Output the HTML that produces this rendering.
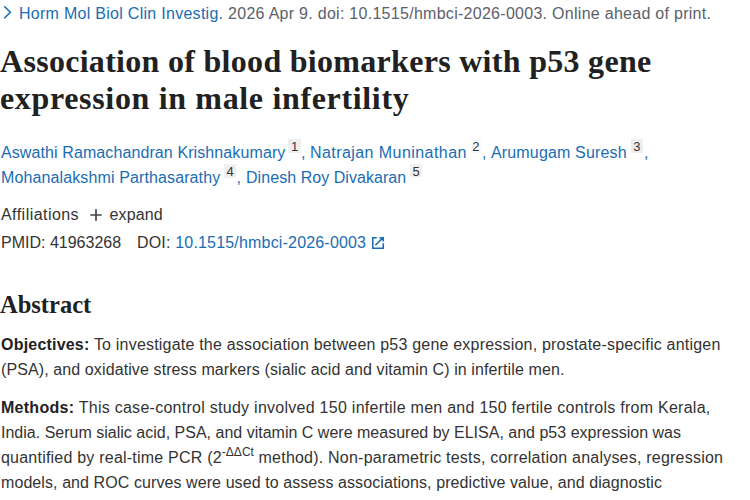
<!DOCTYPE html>
<html><head><meta charset="utf-8">
<style>
html,body{margin:0;padding:0;background:#fff;}
body{width:750px;height:500px;overflow:hidden;position:relative;font-family:"Liberation Sans",sans-serif;color:#212121;}
.l{position:absolute;left:1px;white-space:nowrap;line-height:20px;font-size:16px;}
a{color:#1a6db3;text-decoration:none;}
.cit{color:#5b616b;left:19px;}
.t{left:0;font-family:"Liberation Serif",serif;font-weight:bold;font-size:32px;line-height:36px;color:#212121;}
.au{color:#1a6db3;}
.sb{position:absolute;height:13.5px;font-size:13px;line-height:16.4px;text-align:center;color:#333;background:#efefef;}
.cm{color:#1a6db3;}
.au sup{display:inline-block;font-size:13px;line-height:14px;color:#212121;background:#f0f0f0;padding:0 2.6px;vertical-align:baseline;position:relative;top:-7.5px;letter-spacing:0}
.ab{left:0;font-family:"Liberation Serif",serif;font-weight:bold;font-size:24px;line-height:28px;}
.p{color:#333;}
b{color:#222;}
.p sup{font-size:12px;line-height:0;vertical-align:baseline;position:relative;top:-7px;letter-spacing:0}
svg{position:absolute;overflow:visible}
</style></head><body>
<svg style="left:0;top:0" width="20" height="24"><path d="M4.2 6.3 L10.4 12.3 L4.2 18.3" fill="none" stroke="#1a6db3" stroke-width="1.6"/></svg>
<div class="l cit" style="top:4px;letter-spacing:0.28px"><a href="#">Horm Mol Biol Clin Investig.</a> 2026 Apr 9. doi: 10.1515/hmbci-2026-0003. Online ahead of print.</div>
<div class="l t" style="top:43px;letter-spacing:0.294px">Association of blood biomarkers with p53 gene</div>
<div class="l t" style="top:80px;letter-spacing:0.659px">expression in male infertility</div>
<div class="l au" style="top:142.5px;left:1px;letter-spacing:0.1px">Aswathi Ramachandran Krishnakumary</div>
<div class="sb" style="left:288px;top:139px;width:13.3px">1</div><div class="l cm" style="top:142.5px;left:301px">,</div>
<div class="l au" style="top:142.5px;left:310px;letter-spacing:0.435px">Natrajan Muninathan</div>
<div class="sb" style="left:470.8px;top:139px;width:10px;background:#f8f8f8">2</div><div class="l cm" style="top:142.5px;left:482px">,</div>
<div class="l au" style="top:142.5px;left:491px;letter-spacing:0.158px">Arumugam Suresh</div>
<div class="sb" style="left:630.5px;top:139px;width:12.5px">3</div><div class="l cm" style="top:142.5px;left:644px">,</div>
<div class="l au" style="top:167.5px;left:1px;letter-spacing:0.119px">Mohanalakshmi Parthasarathy</div>
<div class="sb" style="left:224px;top:164px;width:12px">4</div><div class="l cm" style="top:167.5px;left:236.5px">,</div>
<div class="l au" style="top:167.5px;left:246px;letter-spacing:0.055px">Dinesh Roy Divakaran</div>
<div class="sb" style="left:410px;top:163.5px;width:12px">5</div>
<div class="l p" style="top:205px;letter-spacing:0.45px">Affiliations</div>
<svg style="left:90px;top:209px" width="12" height="12"><path d="M6 0.3V11.7M0.3 6H11.7" stroke="#444" stroke-width="1.7"/></svg>
<div class="l p" style="top:205px;left:109.5px;letter-spacing:0.15px">expand</div>
<div class="l p" style="top:233px">PMID: 41963268</div>
<div class="l p" id="doi" style="top:233px;left:137px;letter-spacing:0.18px">DOI: <a href="#">10.1515/hmbci-2026-0003</a></div>
<svg style="left:372px;top:237px" width="12" height="12"><path d="M4.8 0.75H0.75V11.25H11.25V6.2M7.4 0.75H11.25V4.6M3.4 8.3L10.8 0.9" fill="none" stroke="#1a6db3" stroke-width="1.6"/></svg>
<div class="l ab" style="top:291px;letter-spacing:0px;font-size:24.5px">Abstract</div>
<div class="l p" style="top:335px;letter-spacing:0.204px"><b>Objectives:</b> To investigate the association between p53 gene expression, prostate-specific antigen</div>
<div class="l p" style="top:360px;letter-spacing:0.106px">(PSA), and oxidative stress markers (sialic acid and vitamin C) in infertile men.</div>
<div class="l p" style="top:398px;letter-spacing:0.268px"><b>Methods:</b> This case-control study involved 150 infertile men and 150 fertile controls from Kerala,</div>
<div class="l p" style="top:423px;letter-spacing:0.006px">India. Serum sialic acid, PSA, and vitamin C were measured by ELISA, and p53 expression was</div>
<div class="l p" style="top:448px;letter-spacing:0.218px">quantified by real-time PCR (2<sup>-ΔΔCt</sup> method). Non-parametric tests, correlation analyses, regression</div>
<div class="l p" style="top:473px;letter-spacing:0.083px">models, and ROC curves were used to assess associations, predictive value, and diagnostic</div>
</body></html>
